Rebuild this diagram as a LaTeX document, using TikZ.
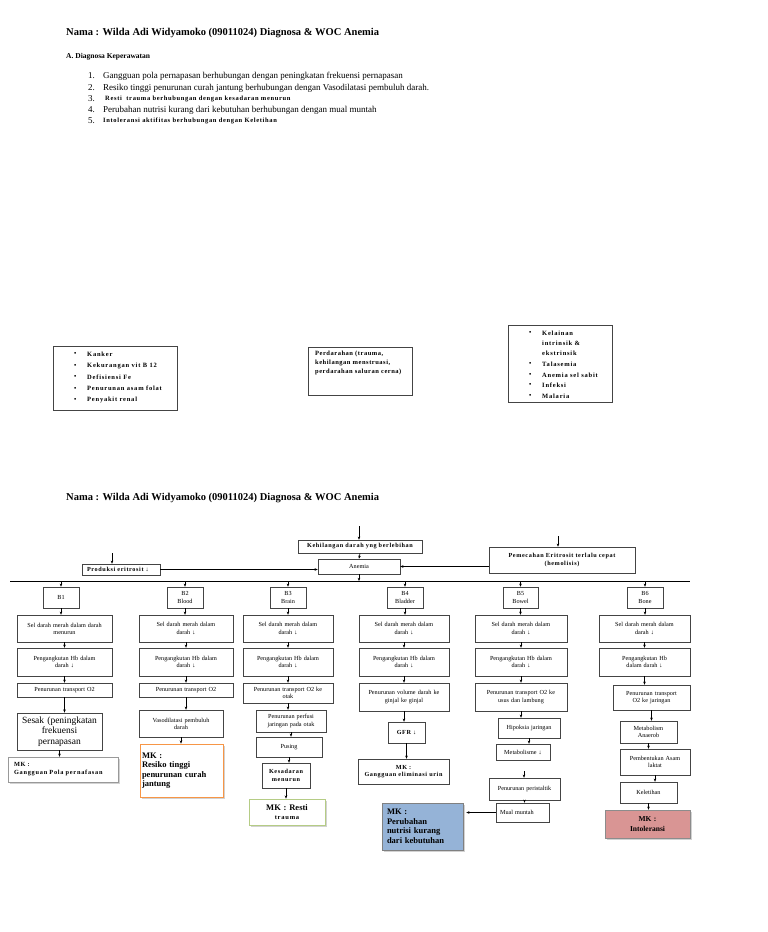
\documentclass[tikz,border=0pt]{standalone}
\usepackage{fontspec}
\setmainfont{Liberation Serif}
\usetikzlibrary{arrows.meta,shadows}
\definecolor{mkblue}{HTML}{95B3D7}
\definecolor{mkred}{HTML}{D99594}
\definecolor{mkorange}{HTML}{F79646}
\definecolor{mkgreen}{HTML}{B5CC85}
\definecolor{bord}{HTML}{444444}
\newcommand\bx[7][]{%
 \pgfmathsetmacro\bw{#5-#3}%
 \pgfmathsetmacro\bh{#6-#4}%
 \pgfmathsetmacro\bcx{(#3+#5)/2}%
 \pgfmathsetmacro\bcy{(#4+#6)/2}%
 \pgfmathsetmacro\btw{#5-#3-4}%
 \node[bxs,minimum width=\bw pt,minimum height=\bh pt,text width=\btw pt,#1] (#2) at (\bcx,\bcy) {#7};}
\newcommand\ar[2]{\draw[arr] (#1.south) -- (#1.south |- #2.north);}
\begin{document}
\begin{tikzpicture}[x=1pt,y=-1pt,
  bxs/.style={draw=bord,line width=0.5pt,align=center,inner xsep=2pt,inner ysep=0.5pt,font=\fontsize{6.2}{7.2}\selectfont},
  bld/.style={font=\bfseries\fontsize{6.2}{7.4}\selectfont\addfontfeatures{LetterSpace=10}},
  arr/.style={-{Stealth[length=3.2pt,width=2.6pt]},line width=0.6pt},
  ttl/.style={anchor=west,inner sep=0pt,font=\bfseries\fontsize{10.5}{12}\selectfont},
  itm/.style={anchor=west,inner sep=0pt,font=\fontsize{9}{10}\selectfont},
  itms/.style={anchor=west,inner sep=0pt,font=\bfseries\fontsize{6.5}{7.5}\selectfont\addfontfeatures{LetterSpace=10}},
  lt/.style={anchor=west,inner sep=0pt,font=\bfseries\fontsize{6.5}{7.5}\selectfont\addfontfeatures{LetterSpace=12}},
  shd/.style={drop shadow={shadow xshift=1.5pt,shadow yshift=-1.5pt,fill=black!35}}]
\useasboundingbox (0,0) rectangle (768,932);
\fill[white] (0,0) rectangle (768,932);

% ---------- page 1 ----------
\node[ttl] (title1) at (66,33) {Nama : Wilda Adi Widyamoko (09011024) Diagnosa \& WOC Anemia};
\node[anchor=west,inner sep=0pt,font=\bfseries\fontsize{7.5}{9}\selectfont] (secA) at (66,57) {A. Diagnosa Keperawatan};
\node[itm] (n1) at (88,76) {1.};
\node[itm] (i1) at (103,76) {Gangguan pola pernapasan berhubungan dengan peningkatan frekuensi pernapasan};
\node[itm] (n2) at (88,88) {2.};
\node[itm] (i2) at (103,88) {Resiko tinggi penurunan curah jantung berhubungan dengan Vasodilatasi pembuluh darah.};
\node[itm] (n3) at (88,99) {3.};
\node[itms] (i3) at (105,99) {Resti\ \ trauma berhubungan dengan kesadaran menurun};
\node[itm] (n4) at (88,110) {4.};
\node[itm] (i4) at (103,110) {Perubahan nutrisi kurang dari kebutuhan berhubungan dengan mual muntah};
\node[itm] (n5) at (88,121) {5.};
\node[itms] (i5) at (103,121) {Intoleransi aktifitas berhubungan dengan Keletihan};

% cause boxes
\bx{cb1}{53}{346}{177}{410}{}
\foreach \t [count=\i] in {Kanker,Kekurangan vit B 12,Defisiensi Fe,Penurunan asam folat,Penyakit renal}{
  \pgfmathsetmacro\yy{354+11.5*(\i-1)}
  \node[lt] (cb1b\i) at (74,\yy) {\textbullet};
  \node[lt] (cb1t\i) at (87,\yy) {\t};
}
\bx{cb2}{308}{347}{412}{395}{}
\node[anchor=north west,inner sep=0pt,align=left,font=\bfseries\fontsize{6.5}{9}\selectfont\addfontfeatures{LetterSpace=8}] (cb2t) at (315,351) {Perdarahan (trauma,\\kehilangan menstruasi,\\perdarahan saluran cerna)};
\bx{cb3}{508}{325}{612}{402}{}
\foreach \t/\yy in {Kelainan/333,intrinsik \&/343,ekstrinsik/353,Talasemia/364,Anemia sel sabit/375,Infeksi/385,Malaria/396}{
  \node[lt] at (542,\yy) {\t};
}
\foreach \yy in {333,364,375,385,396}{\node[lt] at (529,\yy) {\textbullet};}

% ---------- page 2 ----------
\node[ttl] (title2) at (66,498) {Nama : Wilda Adi Widyamoko (09011024) Diagnosa \& WOC Anemia};

\bx[bld]{kehil}{298}{540}{422}{553}{Kehilangan darah yng berlebihan}
\bx{anemia}{318}{559}{400}{574}{Anemia}
\bx[bld,align=left,inner xsep=5pt,text width=68pt]{prod}{82}{564}{160}{575}{Produksi eritrosit ↓}
\bx[bld]{pem}{489}{547}{635}{573}{Pemecahan Eritrosit terlalu cepat\\(hemolisis)}

\coordinate (inK) at (359,526);
\coordinate (inP) at (112,553);
\coordinate (inE) at (558,536);
\draw[arr] (inK) -- (inK |- kehil.north);
\draw[arr] (inP) -- (inP |- prod.north);
\draw[arr] (inE) -- (inE |- pem.north);
\draw[arr] (kehil.south) -- (anemia.north);
\draw[arr] (prod.east) -- (prod.east -| anemia.west);
\draw[arr,line width=0.8pt] (pem.west |- anemia.east) -- (anemia.east);

\coordinate (busL) at (10,581);
\coordinate (busR) at (690,581);
\draw[line width=0.9pt] (busL) -- (busR);
\draw[arr] (anemia.south) -- (anemia.south |- busL);

% B1
\bx{b1}{43}{587}{79}{608}{B1}
\bx{s1}{17}{615}{112}{642}{Sel darah merah dalam darah\\menurun}
\bx{p1}{17}{648}{112}{676}{Pengangkutan Hb dalam\\darah ↓}
\bx{t1}{17}{683}{112}{697}{Penurunan transport O2}
\bx[font=\fontsize{9.5}{10.5}\selectfont,line width=0.7pt]{k1}{17}{713}{102}{750}{Sesak (peningkatan\\frekuensi\\pernapasan}
\bx[shd,fill=white,draw=black!40,align=left,inner xsep=6pt,text width=98pt,font=\bfseries\fontsize{6.3}{7.8}\selectfont\addfontfeatures{LetterSpace=12}]{m1}{8}{757}{118}{782}{MK :\\Gangguan Pola pernafasan}
% B2
\bx{b2}{167}{587}{203}{608}{B2\\Blood}
\bx{s2}{139}{615}{233}{642}{Sel darah merah dalam\\darah ↓}
\bx{p2}{139}{648}{233}{676}{Pengangkutan Hb dalam\\darah ↓}
\bx{t2}{139}{683}{233}{697}{Penurunan transport O2}
\bx{v2}{139}{710}{223}{737}{Vasodilatasi pembuluh\\darah}
\bx[shd,fill=white,draw=mkorange,line width=0.7pt,align=left,font=\bfseries\fontsize{8.5}{9.5}\selectfont]{m2}{140}{744}{223}{797}{MK :\\Resiko tinggi\\penurunan curah\\jantung}
% B3
\bx{b3}{270}{587}{306}{608}{B3\\Brain}
\bx{s3}{243}{615}{333}{642}{Sel darah merah dalam\\darah ↓}
\bx{p3}{243}{648}{333}{676}{Pengangkutan Hb dalam\\darah ↓}
\bx{t3}{243}{683}{333}{703}{Penurunan transport O2 ke\\otak}
\bx{f3}{256}{710}{326}{732}{Penurunan perfusi\\jaringan pada otak}
\bx{u3}{256}{737}{322}{757}{Pusing}
\bx[bld]{d3}{262}{763}{310}{788}{Kesadaran\\menurun}
\bx[shd,fill=white,draw=mkgreen,line width=0.7pt,font=\bfseries\fontsize{8.5}{9.5}\selectfont]{m3}{249}{799}{325}{825}{MK : Resti\\{\fontsize{6.5}{8}\selectfont\addfontfeatures{LetterSpace=12}trauma}}
% B4
\bx{b4}{387}{587}{423}{608}{B4\\Bladder}
\bx{s4}{359}{615}{449}{642}{Sel darah merah dalam\\darah ↓}
\bx{p4}{359}{648}{449}{676}{Pengangkutan Hb dalam\\darah ↓}
\bx{t4}{359}{683}{449}{711}{Penurunan volume darah ke\\ginjal ke ginjal}
\bx[bld]{g4}{388}{722}{425}{743}{GFR ↓}
\bx[bld]{m4}{358}{759}{449}{784}{MK :\\Gangguan eliminasi urin}
% B5
\bx{b5}{503}{587}{538}{608}{B5\\Bowel}
\bx{s5}{475}{615}{567}{642}{Sel darah merah dalam\\darah ↓}
\bx{p5}{475}{648}{567}{676}{Pengangkutan Hb dalam\\darah ↓}
\bx{t5}{475}{683}{567}{711}{Penurunan transport O2 ke\\usus dan lambung}
\bx{h5}{498}{718}{560}{738}{Hipoksia jaringan}
\bx{e5}{496}{744}{550}{760}{Metabolisme ↓}
\bx{r5}{489}{778}{560}{800}{Penurunan peristaltik\\[6pt]}
\bx[align=left,inner xsep=4pt,text width=45pt]{n5}{496}{803}{549}{822}{Mual muntah\\[5pt]}
\bx[shd,fill=mkblue,draw=black!50,align=left,inner xsep=5pt,text width=71pt,font=\bfseries\fontsize{8.5}{9.5}\selectfont]{m5}{382}{803}{463}{850}{MK :\\Perubahan\\nutrisi kurang\\dari kebutuhan}
% B6
\bx{b6}{627}{587}{663}{608}{B6\\Bone}
\bx{s6}{599}{615}{690}{642}{Sel darah merah dalam\\darah ↓}
\bx{p6}{599}{648}{690}{676}{Pengangkutan Hb\\dalam darah ↓}
\bx{t6}{613}{685}{690}{710}{Penurunan transport\\O2 ke jaringan}
\bx{a6}{620}{721}{677}{743}{Metabolism\\Anaerob}
\bx{l6}{620}{749}{690}{775}{Pembentukan Asam\\laktat}
\bx{k6}{620}{782}{677}{803}{Keletihan}
\bx[shd,fill=mkred,draw=black!45,font=\bfseries\fontsize{7.5}{9.5}\selectfont]{m6}{605}{810}{690}{838}{MK :\\Intoleransi}

% bus drops
\foreach \b in {b1,b2,b3,b4,b5,b6}{\draw[arr] (\b.north |- busL) -- (\b.north);}
% column arrows
\ar{b1}{s1}\ar{s1}{p1}\ar{p1}{t1}\ar{t1}{k1}\ar{k1}{m1}
\ar{b2}{s2}\ar{s2}{p2}\ar{p2}{t2}\ar{t2}{v2}\ar{v2}{m2}
\ar{b3}{s3}\ar{s3}{p3}\ar{p3}{t3}\ar{t3}{f3}\ar{f3}{u3}\ar{u3}{d3}\ar{d3}{m3}
\ar{b4}{s4}\ar{s4}{p4}\ar{p4}{t4}\ar{t4}{g4}\ar{g4}{m4}
\ar{b5}{s5}\ar{s5}{p5}\ar{p5}{t5}\ar{t5}{h5}\ar{h5}{e5}
\coordinate (gap5) at (524,771);
\draw[arr] (gap5) -- (gap5 |- r5.north);
\ar{r5}{n5}
\draw[arr,shorten >=3pt] (n5.west) -- (n5.west -| m5.east);
\ar{b6}{s6}\ar{s6}{p6}\ar{p6}{t6}\ar{t6}{a6}\ar{a6}{l6}\ar{l6}{k6}\ar{k6}{m6}
\end{tikzpicture}
\end{document}
